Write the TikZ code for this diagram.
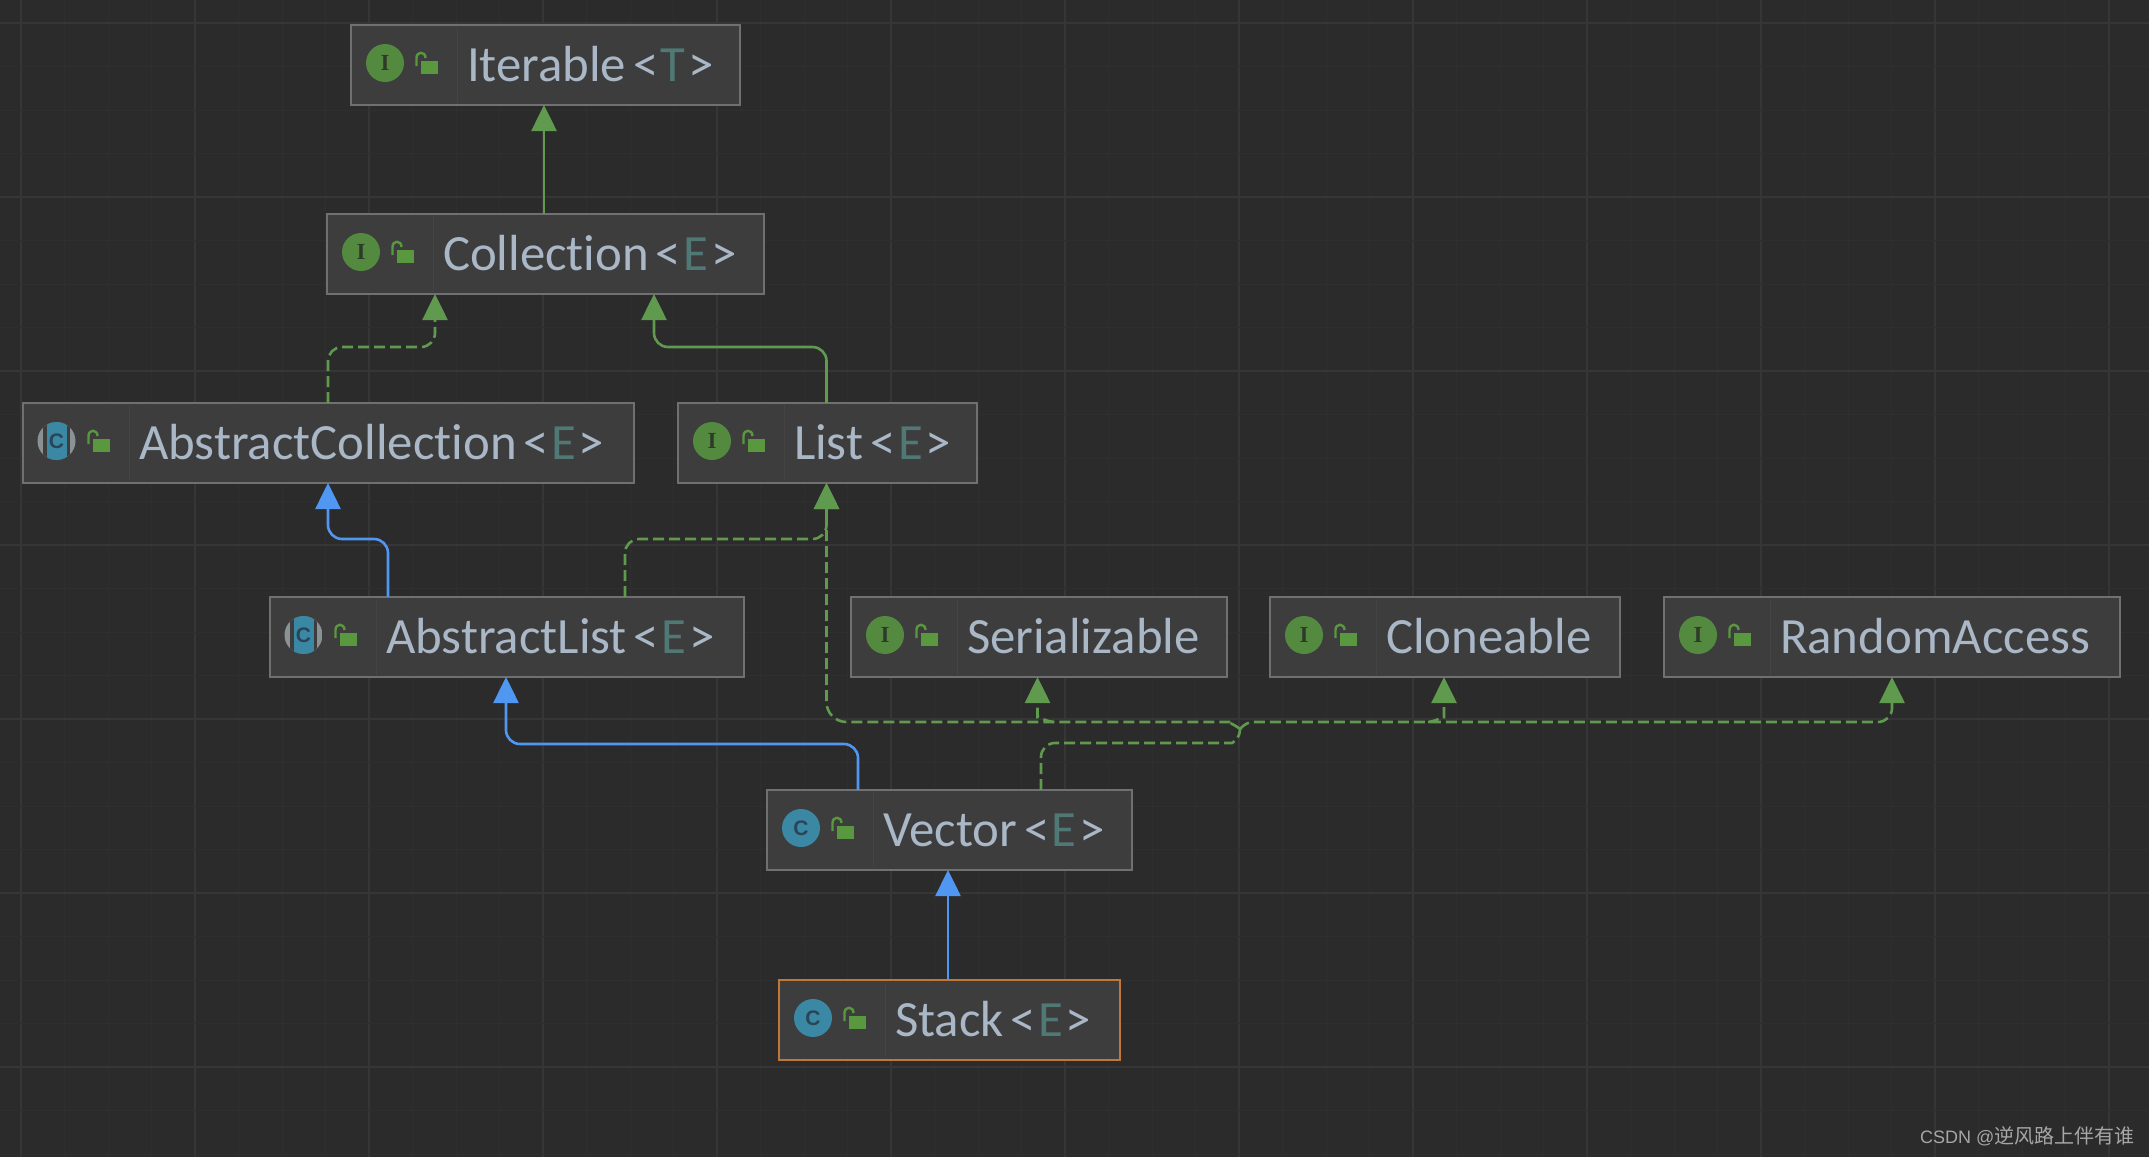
\documentclass[tikz,border=0pt]{standalone}
\usepackage{fontspec}
\setmainfont{Carlito}[Ligatures=NoCommon]
\newfontfamily\wmlatin{Liberation Sans}
\newfontfamily\wmcjk{Noto Sans CJK SC}
\newfontfamily\icserif{Liberation Serif}
\newfontfamily\icsans{Liberation Sans}
\usetikzlibrary{arrows.meta}
\definecolor{bgc}{HTML}{2B2B2B}
\definecolor{gridminor}{HTML}{2F2F2F}
\definecolor{gridmajor}{HTML}{363636}
\definecolor{boxfill}{HTML}{3D3D3D}
\definecolor{boxline}{HTML}{707070}
\definecolor{divc}{HTML}{444444}
\definecolor{orangeline}{HTML}{C1763A}
\definecolor{txt}{HTML}{A9B7C6}
\definecolor{param}{HTML}{507874}
\definecolor{ifgreen}{HTML}{548A3F}
\definecolor{clblue}{HTML}{3B88A5}
\definecolor{clgray}{HTML}{8A9296}
\definecolor{lockg}{HTML}{59983F}
\definecolor{inkI}{HTML}{2F3B2A}
\definecolor{inkC}{HTML}{2A4557}
\definecolor{linkg}{HTML}{5F9A4E}
\definecolor{linkb}{HTML}{5097F2}
\definecolor{wm}{HTML}{A6A6A6}
\tikzset{
  umlbox/.style={draw=boxline,fill=boxfill,line width=2.4pt,inner sep=0pt,outer sep=0pt,minimum height=80pt},
  current/.style={draw=orangeline},
  label text/.style={anchor=base west,inner sep=0pt,outer sep=0pt,text=txt,font=\fontsize{50.8}{50.8}\selectfont},
  icon letter/.style={inner sep=0pt,outer sep=0pt,text=inkI,font=\icserif\bfseries\fontsize{23}{23}\selectfont},
  icon c/.style={inner sep=0pt,outer sep=0pt,text=inkC,font=\icsans\bfseries\fontsize{21}{21}\selectfont},
  ext/.style={-{Triangle[width=25pt,length=26pt,fill=linkb]},draw=linkb,line width=2.6pt,rounded corners=14pt},
  sup/.style={-{Triangle[width=25pt,length=26pt,fill=linkg]},draw=linkg,line width=2.6pt,rounded corners=14pt},
  imp/.style={sup,dash pattern=on 11pt off 5pt},
  impnohead/.style={draw=linkg,line width=2.6pt,rounded corners=14pt,dash pattern=on 11pt off 5pt},
}
\newcommand{\iconI}[1]{%
  \fill[ifgreen] (34,38) circle[radius=19];
  \node[icon letter] (#1-ic) at (34,38) {I};}
\newcommand{\iconC}[1]{%
  \fill[clblue] (34,38) circle[radius=19];
  \node[icon c] (#1-ic) at (34,38) {C};}
\newcommand{\iconA}[1]{%
  \begin{scope}
    \clip (33.5,38) circle[radius=19];
    \fill[clgray] (14,18) rectangle (53,58);
    \fill[boxfill] (20,18) rectangle (47,58);
    \fill[clblue] (23.5,18) rectangle (44,58);
  \end{scope}
  \node[icon c] (#1-ic) at (33.5,38) {C};}
\newcommand{\genericpart}[1]{\hspace{7pt}<\hspace{2.5pt}\textcolor{param}{#1}\hspace{2.5pt}>}
\newcommand{\umlnode}[8]{%
  \node[umlbox,#8,anchor=north west,minimum width=#4pt] (#1) at (#2,#3) {};
  \begin{scope}[shift={(#2,#3)}]
    \draw[divc,line width=1pt] (106,2) -- (106,78);
    #7{#1}
    \draw[lockg,line width=2.4pt] (65.5,41) -- (65.5,33) .. controls (65.5,26) and (74.5,26) .. (74.5,33);
    \fill[lockg] (69.5,35.5) rectangle (86.5,48.5);
    \node[label text] (#1-t) at (116,56.5) {#5#6};
  \end{scope}}
\begin{document}
\begin{tikzpicture}[x=1pt,y=-1pt]
\useasboundingbox (0,0) rectangle (2149,1157);
\fill[bgc] (0,0) rectangle (2149,1157);
\foreach \k in {0,...,49} {
  \pgfmathsetmacro{\xx}{21+43.5*\k}
  \pgfmathtruncatemacro{\mm}{mod(\k,4)}
  \ifnum\mm=0 \draw[gridmajor,line width=1.5pt] (\xx,0) -- (\xx,1157);
  \else \draw[gridminor,line width=1pt] (\xx,0) -- (\xx,1157); \fi
}
\foreach \k in {0,...,26} {
  \pgfmathsetmacro{\yy}{23+43.5*\k}
  \pgfmathtruncatemacro{\mm}{mod(\k,4)}
  \ifnum\mm=0 \draw[gridmajor,line width=1.5pt] (0,\yy) -- (2149,\yy);
  \else \draw[gridminor,line width=1pt] (0,\yy) -- (2149,\yy); \fi
}

\umlnode{iter}{351}{25}{389}{Iterable}{\genericpart{T}}{\iconI}{}
\umlnode{coll}{327}{214}{437}{Collection}{\genericpart{E}}{\iconI}{}
\umlnode{abscoll}{23}{403}{611}{AbstractCollection}{\genericpart{E}}{\iconA}{}
\umlnode{list}{678}{403}{299}{List}{\genericpart{E}}{\iconI}{}
\umlnode{abslist}{270}{597}{474}{AbstractList}{\genericpart{E}}{\iconA}{}
\umlnode{ser}{851}{597}{376}{Serializable}{}{\iconI}{}
\umlnode{clone}{1270}{597}{350}{Cloneable}{}{\iconI}{}
\umlnode{rand}{1664}{597}{456}{RandomAccess}{}{\iconI}{}
\umlnode{vec}{767}{790}{365}{Vector}{\genericpart{E}}{\iconC}{}
\umlnode{stack}{779}{980}{341}{Stack}{\genericpart{E}}{\iconC}{current}

\draw[sup] ([xshift=217pt]coll.north west) -- ([xshift=193pt]iter.south west);
\draw[sup] ([xshift=148.5pt]list.north west) -- ++(0,-56) -| ([xshift=327pt]coll.south west);
\draw[imp] ([xshift=305pt]abscoll.north west) -- ++(0,-56) -| ([xshift=108pt]coll.south west);
\draw[ext] ([xshift=118pt]abslist.north west) -- ++(0,-58) -| ([xshift=305pt]abscoll.south west);
\draw[imp] ([xshift=355pt]abslist.north west) -- ++(0,-58) -| ([xshift=148.5pt]list.south west);
\draw[ext] ([xshift=91pt]vec.north west) -- ++(0,-46) -| ([xshift=236pt]abslist.south west);
\draw[ext] ([xshift=169pt]stack.north west) -- ([xshift=181pt]vec.south west);

\coordinate (fork) at (1240,729);
\coordinate (serj) at (1054,722);
\coordinate (clonej) at (1428,722);
\draw[impnohead] ([xshift=274pt]vec.north west) -- ++(0,-47) -- (1218,743) .. controls (1232,743) and (1240,739) .. (fork);
\draw[imp,rounded corners=20pt] (fork) .. controls (1234,724) and (1226,722) .. (1212,722) -- (826.5,722) -- ([xshift=148.5pt]list.south west);
\draw[imp] (fork) .. controls (1244,724) and (1250,722) .. (1266,722) -- (1892,722) -- ([xshift=228pt]rand.south west);
\draw[imp] (serj) .. controls (1043,721) and (1037.5,715) .. (1037.5,703) -- ([xshift=186.5pt]ser.south west);
\draw[imp] (clonej) .. controls (1438,721) and (1444,715) .. (1444,703) -- ([xshift=174pt]clone.south west);

\node[anchor=base west,inner sep=0pt,text=wm] (wmark) at (1920,1143)
  {{\wmlatin\fontsize{18}{18}\selectfont CSDN @}{\wmcjk\fontsize{20}{20}\selectfont 逆风路上伴有谁}};
\end{tikzpicture}
\end{document}
